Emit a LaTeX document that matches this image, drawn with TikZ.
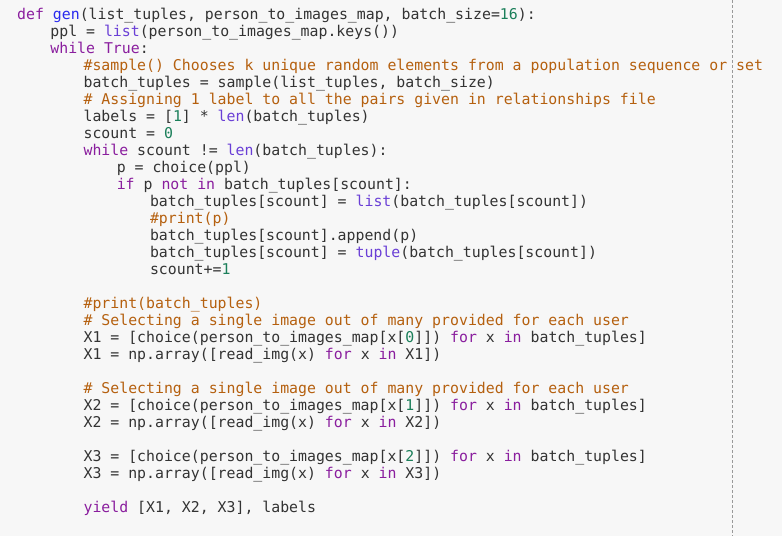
\documentclass[tikz,border=0pt]{standalone}
\usepackage{fontspec}
\setmonofont{DejaVu Sans Mono}
\definecolor{bgc}{HTML}{F7F7F7}
\definecolor{txt}{HTML}{333333}
\definecolor{kwc}{HTML}{8A1E9E}
\definecolor{bic}{HTML}{6A3FD6}
\definecolor{fnc}{HTML}{2A2AEE}
\definecolor{cmc}{HTML}{B5600F}
\definecolor{nmc}{HTML}{1B7F5A}
\newcommand\kw[1]{\textcolor{kwc}{#1}}
\newcommand\bi[1]{\textcolor{bic}{#1}}
\newcommand\fn[1]{\textcolor{fnc}{#1}}
\newcommand\cm[1]{\textcolor{cmc}{#1}}
\newcommand\nm[1]{\textcolor{nmc}{#1}}
\begin{document}
\begin{tikzpicture}[x=1pt,y=-1pt,
  code/.style={anchor=base west,inner sep=0pt,text=txt,font=\ttfamily\fontsize{14.85}{17}\selectfont}]
\fill[bgc] (0,0) rectangle (782,536);
\useasboundingbox (0,0) rectangle (782,536);
\draw[gray!80,dash pattern=on 2.5pt off 2.5pt] (732,0) -- (732,536);
\def\ln#1#2#3#4{\node[code] (#1) at ({17+8.3*#2},{19+17*(#3-1)}) {#4};}
\ln{l1}{0}{1}{\kw{def} \fn{gen}(list\_tuples, person\_to\_images\_map, batch\_size=\nm{16}):}
\ln{l2}{4}{2}{ppl = \bi{list}(person\_to\_images\_map.keys())}
\ln{l3}{4}{3}{\kw{while} \kw{True}:}
\ln{l4}{8}{4}{\cm{\#sample() Chooses k unique random elements from a population sequence or set}}
\ln{l5}{8}{5}{batch\_tuples = sample(list\_tuples, batch\_size)}
\ln{l6}{8}{6}{\cm{\# Assigning 1 label to all the pairs given in relationships file}}
\ln{l7}{8}{7}{labels = [\nm{1}] * \bi{len}(batch\_tuples)}
\ln{l8}{8}{8}{scount = \nm{0}}
\ln{l9}{8}{9}{\kw{while} scount != \bi{len}(batch\_tuples):}
\ln{l10}{12}{10}{p = choice(ppl)}
\ln{l11}{12}{11}{\kw{if} p \kw{not} \kw{in} batch\_tuples[scount]:}
\ln{l12}{16}{12}{batch\_tuples[scount] = \bi{list}(batch\_tuples[scount])}
\ln{l13}{16}{13}{\cm{\#print(p)}}
\ln{l14}{16}{14}{batch\_tuples[scount].append(p)}
\ln{l15}{16}{15}{batch\_tuples[scount] = \bi{tuple}(batch\_tuples[scount])}
\ln{l16}{16}{16}{scount+=\nm{1}}
\ln{l18}{8}{18}{\cm{\#print(batch\_tuples)}}
\ln{l19}{8}{19}{\cm{\# Selecting a single image out of many provided for each user}}
\ln{l20}{8}{20}{X1 = [choice(person\_to\_images\_map[x[\nm{0}]]) \kw{for} x \kw{in} batch\_tuples]}
\ln{l21}{8}{21}{X1 = np.array([read\_img(x) \kw{for} x \kw{in} X1])}
\ln{l23}{8}{23}{\cm{\# Selecting a single image out of many provided for each user}}
\ln{l24}{8}{24}{X2 = [choice(person\_to\_images\_map[x[\nm{1}]]) \kw{for} x \kw{in} batch\_tuples]}
\ln{l25}{8}{25}{X2 = np.array([read\_img(x) \kw{for} x \kw{in} X2])}
\ln{l27}{8}{27}{X3 = [choice(person\_to\_images\_map[x[\nm{2}]]) \kw{for} x \kw{in} batch\_tuples]}
\ln{l28}{8}{28}{X3 = np.array([read\_img(x) \kw{for} x \kw{in} X3])}
\ln{l30}{8}{30}{\kw{yield} [X1, X2, X3], labels}
\end{tikzpicture}
\end{document}
